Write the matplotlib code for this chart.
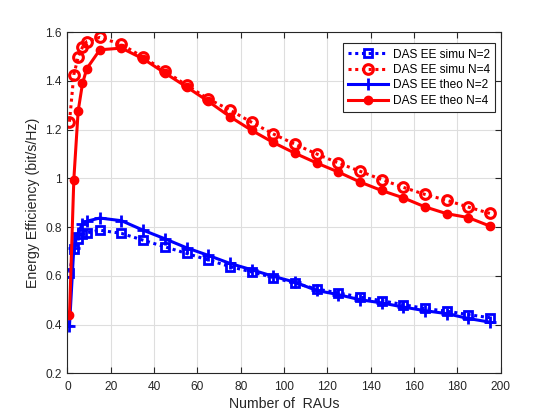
import matplotlib
matplotlib.use("Agg")
import matplotlib.pyplot as plt

plt.rcParams['font.family'] = ['Liberation Sans', 'DejaVu Sans']

rau = [1, 3, 5, 7, 9, 15, 25, 35, 45, 55, 65, 75, 85, 95, 105, 115, 125, 135, 145, 155, 165, 175, 185, 195]

simu_n2 = [0.613, 0.708, 0.749, 0.770, 0.776, 0.787, 0.774, 0.746, 0.719, 0.692, 0.665, 0.638,
           0.616, 0.593, 0.570, 0.546, 0.530, 0.513, 0.498, 0.482, 0.466, 0.455, 0.441, 0.428]
simu_n4 = [1.232, 1.425, 1.497, 1.538, 1.561, 1.578, 1.549, 1.497, 1.440, 1.382, 1.326, 1.280,
           1.230, 1.182, 1.140, 1.100, 1.063, 1.029, 0.995, 0.963, 0.934, 0.910, 0.882, 0.856]
theo_n2 = [0.396, 0.715, 0.776, 0.813, 0.824, 0.837, 0.826, 0.787, 0.752, 0.715, 0.684, 0.651,
           0.625, 0.598, 0.574, 0.540, 0.523, 0.502, 0.489, 0.472, 0.457, 0.445, 0.425, 0.410]
theo_n4 = [0.438, 0.995, 1.276, 1.389, 1.450, 1.527, 1.534, 1.490, 1.432, 1.375, 1.316, 1.253,
           1.197, 1.147, 1.103, 1.063, 1.026, 0.985, 0.950, 0.920, 0.883, 0.855, 0.839, 0.804]

labels = ['DAS EE simu N=2', 'DAS EE simu N=4', 'DAS EE theo N=2', 'DAS EE theo N=4']

fig = plt.figure(figsize=(5.55, 4.19), dpi=100)
ax = fig.add_axes([0.1213, 0.109, 0.7809, 0.8146])

ax.plot(rau, simu_n2, linestyle=(0, (1, 1.2)), color='#0000ff', lw=2.2, marker='s', ms=6,
        mfc='none', mec='#0000ff', mew=2, label=labels[0])
ax.plot(rau, simu_n4, linestyle=(0, (1, 1.2)), color='#ff0000', lw=2.2, marker='o', ms=7,
        mfc='none', mec='#ff0000', mew=2.2, label=labels[1])
ax.plot(rau, theo_n2, linestyle='-', color='#0000ff', lw=2.2, marker='+', ms=8,
        mew=2, label=labels[2])
ax.plot(rau, theo_n4, linestyle='-', color='#ff0000', lw=2.2, marker='o', ms=6,
        mfc='#ff0000', mec='#ff0000', label=labels[3])

ax.set_xlim(0, 200)
ax.set_ylim(0.2, 1.6)
ax.set_xticks(range(0, 201, 20))
ax.set_yticks([0.2, 0.4, 0.6, 0.8, 1.0, 1.2, 1.4, 1.6])
ax.set_yticklabels(['0.2', '0.4', '0.6', '0.8', '1', '1.2', '1.4', '1.6'])

axc = '#262626'
ax.grid(True, color='#dedede', lw=0.8)
ax.set_axisbelow(True)
for s in ax.spines.values():
    s.set_color(axc)
    s.set_linewidth(0.8)
ax.tick_params(direction='in', length=4, width=0.8, colors=axc, labelsize=8.6,
               top=True, right=True, pad=4)
ax.tick_params(axis='x', pad=5.5)

ax.set_xlabel('Number of  RAUs', fontsize=10.2, color=axc, labelpad=3)
ax.set_ylabel('Energy Efficiency (bit/s/Hz)', fontsize=10.2, color=axc, labelpad=4)

leg = ax.legend(loc='upper right', bbox_to_anchor=(0.987, 0.967), fontsize=8.6,
                frameon=True, fancybox=False, handlelength=3.3, borderpad=0.45,
                labelspacing=0.28, handletextpad=0.4, borderaxespad=0.0)
leg.get_frame().set_edgecolor('#262626')
leg.get_frame().set_linewidth(0.8)
leg.get_frame().set_alpha(1)

fig.savefig('out.png', dpi=100)
